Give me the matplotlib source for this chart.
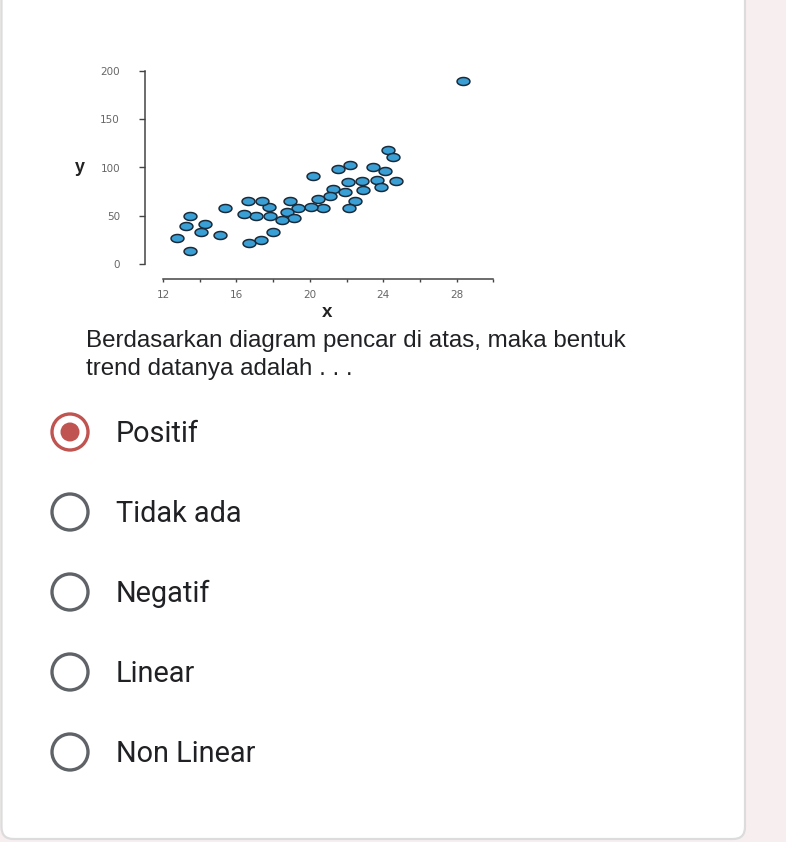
import matplotlib

matplotlib.use("Agg")
import matplotlib.pyplot as plt  # noqa: E402
import numpy as np  # noqa: E402
from matplotlib.patches import Circle, FancyBboxPatch  # noqa: E402
from matplotlib.path import Path  # noqa: E402

# scatter data
x_vals = [28.33, 24.27, 24.55, 21.55, 22.18, 20.18, 23.45, 24.09, 24.69, 23.64,
          22.82, 22.09, 23.90, 22.90, 21.27, 21.90, 21.09, 20.45, 22.45, 22.15,
          20.73, 20.04, 19.36, 18.90, 18.78, 19.15, 18.50, 18.00, 17.82, 17.78,
          17.42, 17.09, 16.64, 16.42, 16.69, 17.36, 15.36, 15.13, 14.27, 14.09,
          13.45, 13.24, 12.76, 13.49]
y_vals = [189.7, 118.0, 110.5, 98.5, 103.0, 91.0, 100.0, 96.7, 86.0, 87.0,
          86.4, 84.7, 79.5, 76.8, 77.5, 74.4, 70.6, 67.5, 65.7, 58.5,
          57.8, 59.6, 58.5, 65.7, 53.7, 47.5, 45.8, 33.7, 50.3, 58.9,
          65.7, 50.3, 65.7, 52.0, 22.4, 25.1, 58.5, 30.3, 41.3, 33.7,
          50.3, 40.0, 26.9, 13.8]
x_ticks = [12, 14, 16, 18, 20, 22, 24, 26, 28, 30]
x_ticklabels = ["12", "", "16", "", "20", "", "24", "", "28", ""]
y_ticks = [0, 50, 100, 150, 200]

question_lines = ["Berdasarkan diagram pencar di atas, maka bentuk",
                  "trend datanya adalah . . ."]
options = ["Positif", "Tidak ada", "Negatif", "Linear", "Non Linear"]
selected = 0

W, H = 786, 842
fig = plt.figure(figsize=(W / 100, H / 100), dpi=100)
fig.patch.set_facecolor("#f7eef0")

# page layer in pixel coordinates
bg = fig.add_axes([0, 0, 1, 1])
bg.set_xlim(0, W)
bg.set_ylim(H, 0)
bg.axis("off")

card = FancyBboxPatch((1.5, -40), 743.5, 879, boxstyle="round,pad=0,rounding_size=12",
                      facecolor="white", edgecolor="#dcdcdc", linewidth=1.6)
bg.add_patch(card)

bg.text(80, 172.5, "y", ha="center", va="baseline", fontsize=13,
        fontweight="bold", color="#222222", family="Liberation Sans")
bg.text(327, 317, "x", ha="center", va="baseline", fontsize=13.5,
        fontweight="bold", color="#222222", family="Liberation Sans")

for i, line in enumerate(question_lines):
    bg.text(86, 347 + i * 28, line, ha="left", va="baseline", fontsize=17.4,
            color="#202124", family="Liberation Sans")

for i, opt in enumerate(options):
    cy = 432 + i * 80
    if i == selected:
        bg.add_patch(Circle((70, cy), 18, facecolor="none", edgecolor="#bf5450", linewidth=2.4))
        bg.add_patch(Circle((70, cy), 9.5, facecolor="#bf5450", edgecolor="none"))
    else:
        bg.add_patch(Circle((70, cy), 18, facecolor="none", edgecolor="#5f6368", linewidth=2.4))
    bg.text(116, cy + 9.5, opt, ha="left", va="baseline", fontsize=20.8,
            color="#202124", family="Roboto")

# scatter plot
ax = fig.add_axes([163 / W, (H - 264.3) / H, 330.3 / W, 193.6 / H])
ax.set_facecolor("none")
theta = np.linspace(0, 2 * np.pi, 60)
oval = Path(np.column_stack([np.cos(theta), 0.62 * np.sin(theta)]), closed=True)
ax.scatter(x_vals, y_vals, s=86, marker=oval, facecolor="#3a9fd4",
           edgecolor="#1c2b3a", linewidth=1.1, clip_on=False, zorder=3)
ax.set_xlim(12, 30)
ax.set_ylim(0, 200)
ax.set_xticks(x_ticks)
ax.set_xticklabels(x_ticklabels)
ax.set_yticks(y_ticks)
for side in ("top", "right"):
    ax.spines[side].set_visible(False)
ax.spines["left"].set_position(("outward", 13))
ax.spines["bottom"].set_position(("outward", 10.8))
ax.spines["left"].set_bounds(0, 200)
ax.spines["bottom"].set_bounds(12, 30)
for side in ("left", "bottom"):
    ax.spines[side].set_color("#444444")
    ax.spines[side].set_linewidth(1.1)
ax.tick_params(axis="both", width=1, color="#444444",
               labelsize=7.5, labelcolor="#666666")
ax.tick_params(axis="y", length=4, pad=14)
ax.tick_params(axis="x", length=2.5, pad=5)

fig.savefig("out.png", dpi=100)
